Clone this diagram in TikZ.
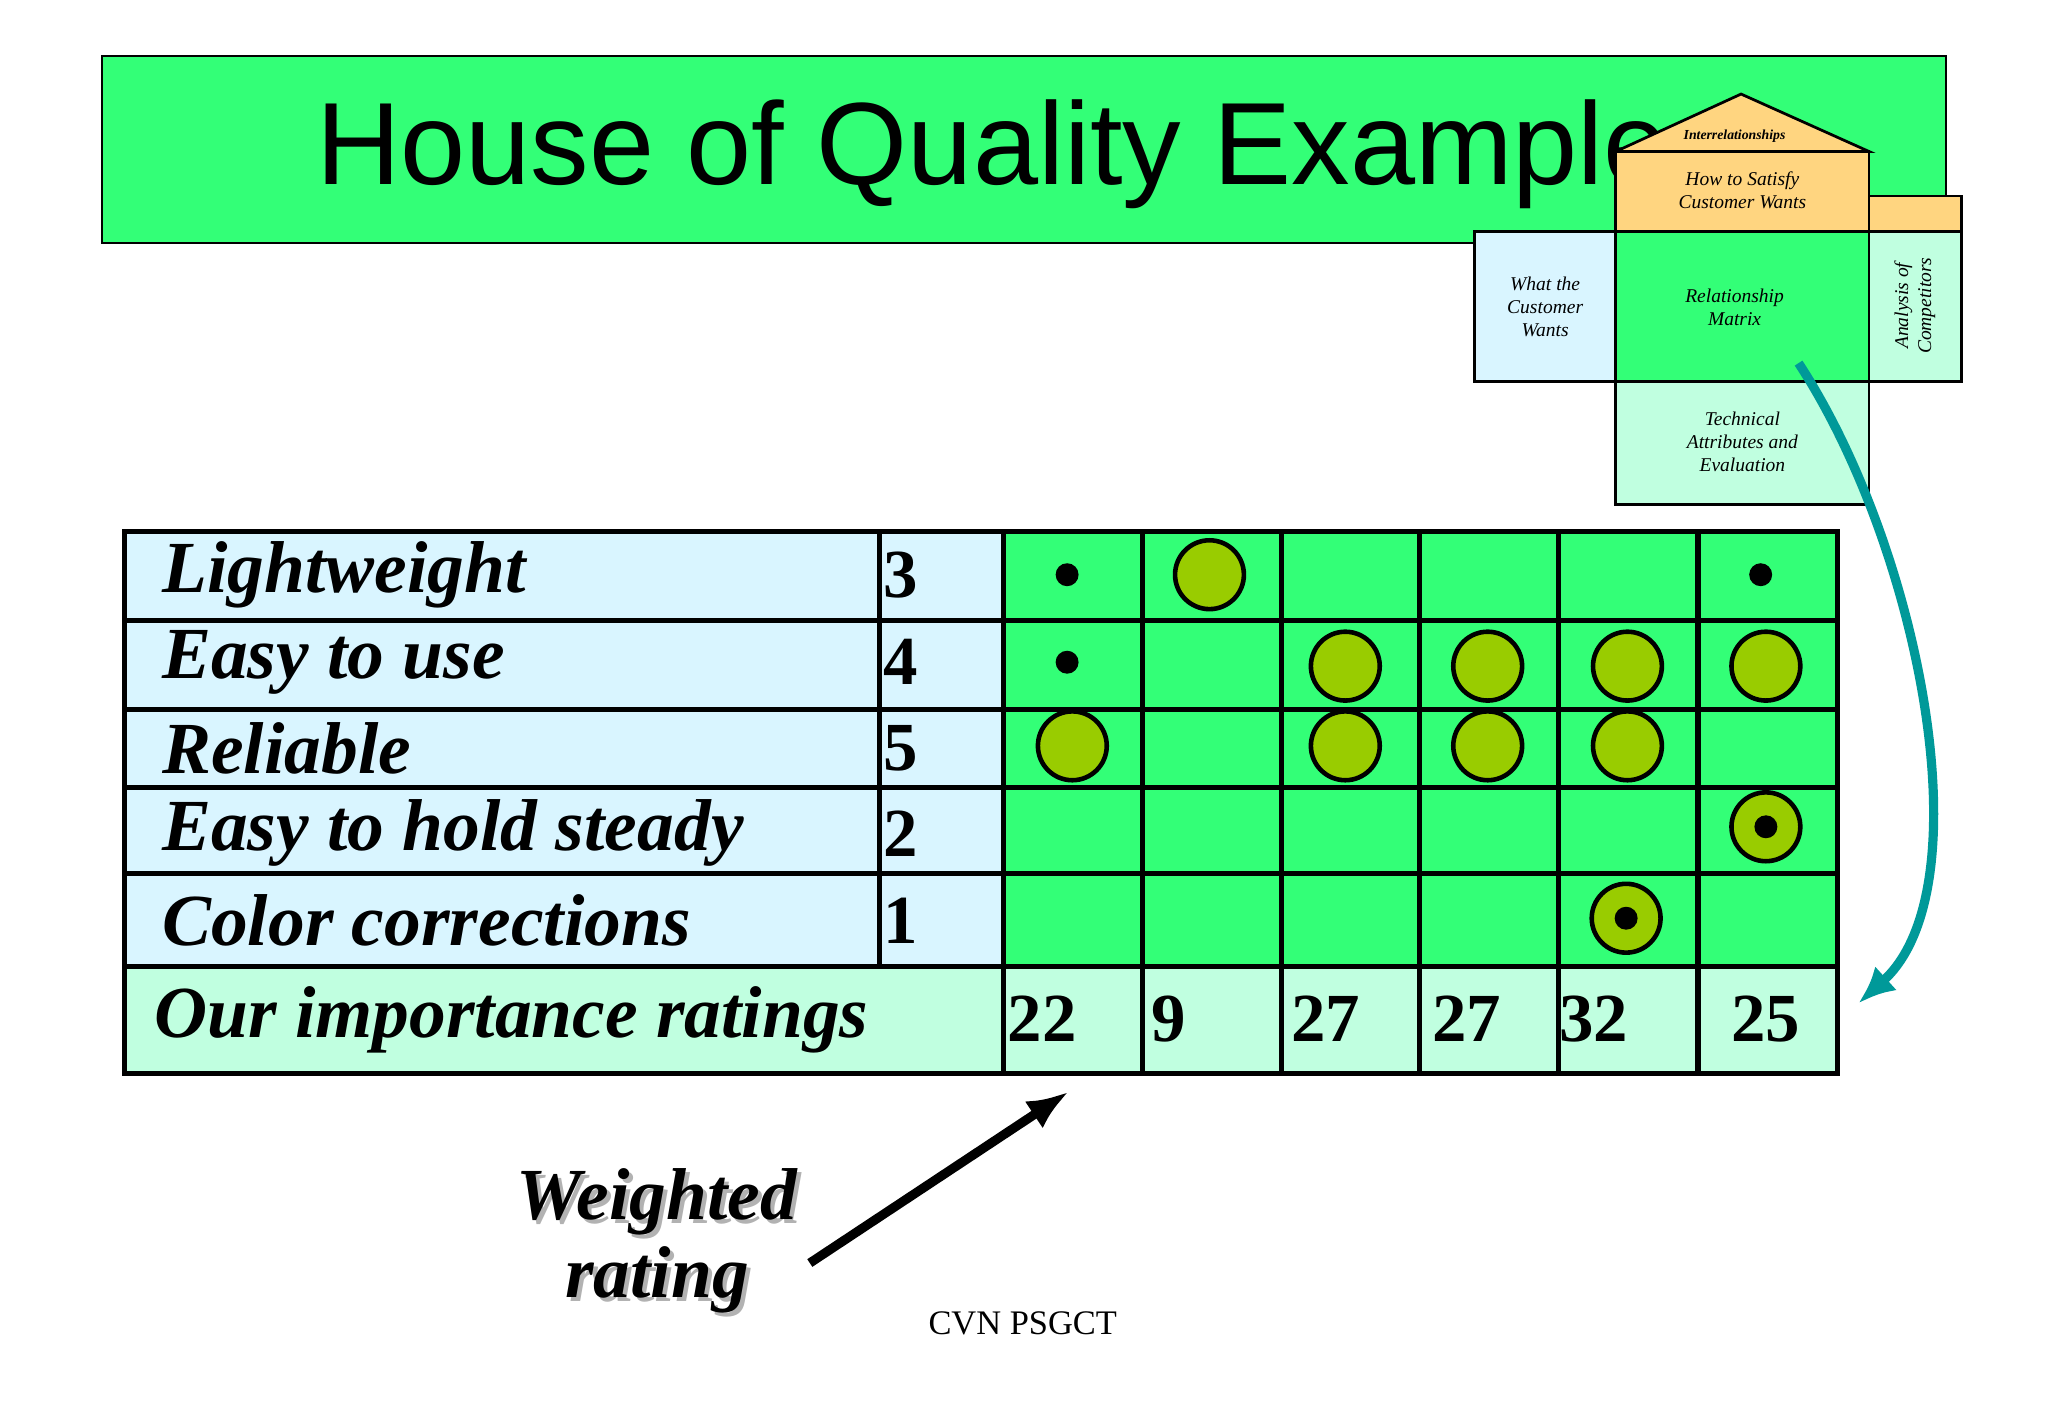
\documentclass[tikz,border=0pt]{standalone}
\usepackage{fontspec}
\setmainfont{Liberation Serif}
\setsansfont{Liberation Sans}
\usetikzlibrary{arrows.meta}
\definecolor{hgreen}{HTML}{33FF77}
\definecolor{hblue}{HTML}{D9F5FF}
\definecolor{hmint}{HTML}{C0FFE0}
\definecolor{horange}{HTML}{FFD580}
\definecolor{holive}{HTML}{99CC00}
\definecolor{hteal}{HTML}{009999}
\tikzset{
 cell/.style={draw=black,line width=2.2pt},
 hcell/.style={draw=black,line width=1.2pt},
 lbl/.style={anchor=west,font=\fontsize{32}{36}\selectfont\bfseries\itshape},
 num/.style={font=\fontsize{30}{34}\selectfont\bfseries},
 small/.style={font=\fontsize{8.5}{10}\selectfont\itshape,align=center},
 big/.style={circle,draw=black,line width=2pt,fill=holive,minimum size=30pt,inner sep=0pt},
 dotn/.style={circle,fill=black,minimum size=10pt,inner sep=0pt},
}
\begin{document}
\begin{tikzpicture}[x=0.02cm,y=-0.02cm]
\useasboundingbox (0,0) rectangle (1568,1086);
\fill[white] (0,0) rectangle (1568,1086);
% title
\draw[fill=hgreen,line width=0.8pt] (78,43) rectangle (1490,186);
\node (title) at (760,118) {\sffamily\fontsize{51}{56}\selectfont House of Quality Example};
% table
\foreach \ya/\yb in {407/475,475/543,543/603,603/669,669/740}{
 \draw[cell,fill=hblue] (95,\ya) rectangle (673,\yb);
 \draw[cell,fill=hblue] (673,\ya) rectangle (768,\yb);
 \foreach \xa/\xb in {768/875,875/981,981/1087,1087/1193,1193/1300,1300/1407}
   \draw[cell,fill=hgreen] (\xa,\ya) rectangle (\xb,\yb);
}
\draw[cell,fill=hmint] (95,740) rectangle (768,822);
\foreach \xa/\xb in {768/875,875/981,981/1087,1087/1193,1193/1300,1300/1407}
   \draw[cell,fill=hmint] (\xa,740) rectangle (\xb,822);
\node[lbl] (l1) at (118,440) {Lightweight};
\node[lbl] (l2) at (118,507) {Easy to use};
\node[lbl] (l3) at (118,573) {Reliable};
\node[lbl] (l4) at (118,638) {Easy to hold steady};
\node[lbl] (l5) at (118,705) {Color corrections};
\node[lbl] (l6) at (112,781) {Our importance ratings};
\foreach \t/\y/\n in {3/440/w1,4/507/w2,5/573/w3,2/638/w4,1/705/w5}
  \node[num,anchor=west] (\n) at (670,\y) {\t};
\foreach \t/\x/\n in {22/798/t1,9/895/t2,27/1015/t3,27/1123/t4,32/1220/t5,25/1352/t6}
  \node[num] (\n) at (\x,780) {\t};
% symbols
\node[dotn] (d11) at (817,440) {};
\node[big] (c12) at (926,440) {};
\node[dotn] (d16) at (1348,440) {};
\node[dotn] (d21) at (817,507) {};
\foreach \x/\n in {1030/a,1139/b,1246/c,1352/d} \node[big] (c2\n) at (\x,510) {};
\node[big] (c31) at (821,571) {};
\foreach \x/\n in {1030/a,1139/b,1246/c} \node[big] (c3\n) at (\x,571) {};
\node[big] (c46) at (1352,633) {}; \node[dotn] at (c46) {};
\node[big] (c55) at (1245,703) {}; \node[dotn] at (c55) {};
% weighted rating
\node[font=\fontsize{32}{34}\selectfont\bfseries\itshape,align=center,text=gray!60] at (506,953) {Weighted\\rating};
\node[font=\fontsize{32}{34}\selectfont\bfseries\itshape,align=center] (wr) at (503,950) {Weighted\\rating};
\coordinate (as) at (620,967);
\coordinate (ae) at (818,836);
\draw[line width=4pt,-{Latex[length=18pt,width=14pt]}] (as) -- (ae);
\node[font=\fontsize{15}{18}\selectfont] (cvn) at (783,1013) {CVN PSGCT};
% house
\draw[hcell,fill=horange] (1237,116) -- (1333,72) -- (1431,116) -- cycle;
\node[small,font=\fontsize{6}{7}\selectfont\itshape\bfseries] (ir) at (1328,104) {Interrelationships};
\draw[hcell,fill=horange] (1237,116) rectangle (1431,177);
\node[small] (how) at (1334,146) {How to Satisfy\\Customer Wants};
\draw[hcell,fill=hblue] (1129,177) rectangle (1237,292);
\node[small] (what) at (1183,235) {What the\\Customer\\Wants};
\draw[hcell,fill=hgreen] (1237,177) rectangle (1431,292);
\node[small] (rel) at (1328,235) {Relationship\\Matrix};
\draw[hcell,fill=horange] (1431,150) rectangle (1502,177);
\draw[hcell,fill=hmint] (1431,177) rectangle (1502,292);
\node[small,rotate=90] (ana) at (1466,234) {Analysis of\\Competitors};
\draw[hcell,fill=hmint] (1237,292) rectangle (1431,386);
\node[small] (tech) at (1334,338) {Technical\\Attributes and\\Evaluation};
\coordinate (ts) at (1377,278);
\coordinate (te) at (1423,768);
\draw[hteal,line width=4pt,-{Latex[length=16pt,width=14pt]}] (ts) .. controls (1470,420) and (1520,680) .. (te);
\end{tikzpicture}
\end{document}
